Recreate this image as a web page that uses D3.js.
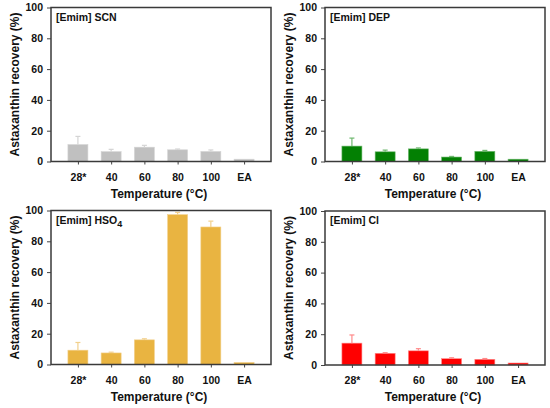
<!DOCTYPE html>
<html>
<head>
<meta charset="utf-8">
<script src="https://cdn.jsdelivr.net/npm/d3@7"></script>
<style>
  body { margin: 0; background: #fff; }
  text { font-family: "Liberation Sans", Arial, sans-serif; font-weight: bold; fill: #111; }
</style>
</head>
<body>
<svg id="chart" width="550" height="408"></svg>
<script>
// categories and values
const temps = ["28*", "40", "60", "80", "100", "EA"];
const yTicks = [0, 20, 40, 60, 80, 100];

const scnVals = [11.0, 6.4, 9.3, 7.6, 6.5, 1.5];
const scnErr  = [5.3, 1.5, 1.2, 0.5, 1.0, 0];
const depVals = [10.0, 6.3, 8.2, 2.9, 6.6, 1.5];
const depErr  = [5.2, 1.1, 0.6, 0.4, 0.6, 0];
const hso4Vals = [9.3, 7.5, 16.0, 97.3, 89.3, 1.3];
const hso4Err  = [5.0, 0.5, 0.7, 1.5, 3.8, 0];
const clVals = [14.2, 7.6, 9.2, 4.1, 3.7, 1.3];
const clErr  = [5.3, 0.4, 1.4, 0.6, 0.5, 0];

const panels = [
  { label: "[Emim] SCN", sub: null, vals: scnVals, err: scnErr, fill: "#c0c0c0", errColor: "#d4d4d4", x: 51, y: 7.5 },
  { label: "[Emim] DEP", sub: null, vals: depVals, err: depErr, fill: "#038003", errColor: "#6fb86f", x: 325, y: 7.5 },
  { label: "[Emim] HSO", sub: "4", vals: hso4Vals, err: hso4Err, fill: "#e9b441", errColor: "#f2d08c", x: 51, y: 210.5 },
  { label: "[Emim] Cl", sub: null, vals: clVals, err: clErr, fill: "#ff0000", errColor: "#ff8a8a", x: 325, y: 211 }
];

const W = 220, H = 154;
const svg = d3.select("#chart");

panels.forEach(p => {
  const g = svg.append("g").attr("transform", `translate(${p.x},${p.y})`);

  const x = d3.scalePoint().domain(temps).range([0, W]).padding(0.81);
  const y = d3.scaleLinear().domain([0, 100]).range([H, 0]);
  const barW = 20;

  // bars
  g.selectAll("rect.bar")
    .data(p.vals)
    .enter().append("rect")
    .attr("class", "bar")
    .attr("x", (d, i) => x(temps[i]) - barW / 2)
    .attr("width", barW)
    .attr("y", d => y(d))
    .attr("height", d => y(0) - y(d))
    .attr("fill", p.fill)
    .attr("stroke", p.errColor)
    .attr("stroke-width", 0.6);

  // upper error bars only
  const eb = g.selectAll("g.err")
    .data(p.vals.map((v, i) => ({ v, e: p.err[i], c: temps[i] })).filter(d => d.e > 0))
    .enter().append("g").attr("class", "err");
  eb.append("line")
    .attr("x1", d => x(d.c)).attr("x2", d => x(d.c))
    .attr("y1", d => y(d.v)).attr("y2", d => y(d.v + d.e))
    .attr("stroke", p.errColor).attr("stroke-width", 1.2);
  eb.append("line")
    .attr("x1", d => x(d.c) - 2.5).attr("x2", d => x(d.c) + 2.5)
    .attr("y1", d => y(d.v + d.e)).attr("y2", d => y(d.v + d.e))
    .attr("stroke", p.errColor).attr("stroke-width", 1.2);

  // axes
  const yAxis = g.append("g")
    .call(d3.axisLeft(y).tickValues(yTicks).tickSize(4).tickPadding(4));
  const xAxis = g.append("g")
    .attr("transform", `translate(0,${H})`)
    .call(d3.axisBottom(x).tickSize(3).tickPadding(9));
  [yAxis, xAxis].forEach(a => {
    a.select(".domain").remove();
    a.selectAll("line").attr("stroke", "#444").attr("stroke-width", 1);
    a.selectAll("text").attr("font-size", 10.5).attr("fill", "#111");
  });

  // frame
  g.append("rect")
    .attr("width", W).attr("height", H)
    .attr("fill", "none")
    .attr("stroke", "#3a3a3a")
    .attr("stroke-width", 1.5);

  // panel label
  const lab = g.append("text")
    .attr("x", 5).attr("y", 13)
    .attr("font-size", 10.5)
    .text(p.label);
  if (p.sub) {
    lab.append("tspan")
      .attr("dy", 3)
      .attr("font-size", 9)
      .text(p.sub);
  }

  // axis titles
  g.append("text")
    .attr("x", W / 2 - 2).attr("y", H + 36)
    .attr("text-anchor", "middle")
    .attr("font-size", 12)
    .text("Temperature (\u00B0C)");
  g.append("text")
    .attr("transform", `translate(-32,${H / 2}) rotate(-90)`)
    .attr("text-anchor", "middle")
    .attr("font-size", 12)
    .text("Astaxanthin recovery (%)");
});
</script>
</body>
</html>
